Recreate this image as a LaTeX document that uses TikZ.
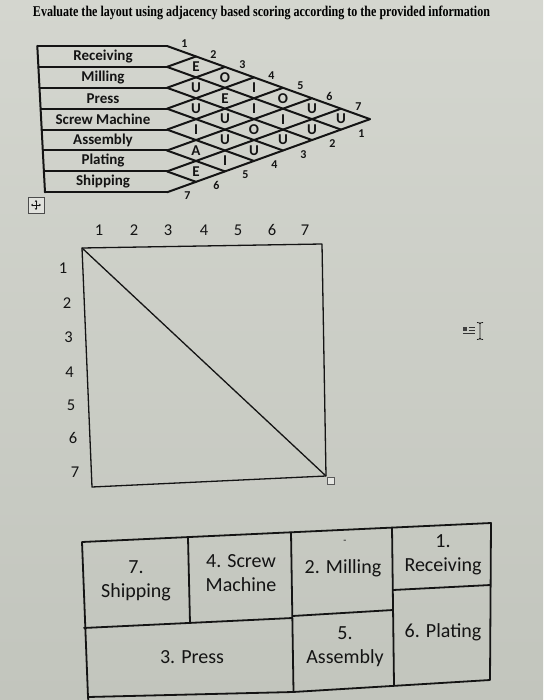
\documentclass[tikz,border=0pt]{standalone}
\usepackage{fontspec}
\setmainfont{Carlito}
\newfontfamily\timesf{Liberation Serif}
\usetikzlibrary{arrows.meta}
\definecolor{bgtop}{RGB}{212,214,207}
\definecolor{bgbot}{RGB}{194,197,189}
\definecolor{ink}{RGB}{20,20,20}
\begin{document}
\begin{tikzpicture}[x=1pt,y=-1pt,
  chartline/.style={line width=2pt, draw=ink, line join=round, line cap=round},
  rowlabel/.style={font=\fontsize{15}{15}\selectfont\bfseries, text=ink, inner sep=0pt},
  rel/.style={font=\fontsize{15}{15}\selectfont\bfseries, inner sep=0pt, text=ink},
  edgenum/.style={font=\fontsize{12}{12}\selectfont\bfseries, inner sep=0pt, text=ink},
  matnum/.style={font=\fontsize{16.5}{16.5}\selectfont, inner sep=0pt, text=ink},
  matline/.style={line width=1.3pt, draw=ink, line join=round},
  cell/.style={font=\fontsize{20}{24}\selectfont, align=center, inner sep=0pt, text=ink},
  gridline/.style={line width=1.8pt, draw=ink, line join=round},
  iconline/.style={line width=0.7pt, draw=gray!60!black},
]
\useasboundingbox (0,0) rectangle (543,700);
\shade[top color=bgtop,bottom color=bgbot] (0,0) rectangle (543,700);

% title
\node[inner sep=0pt] (title) at (261.5,12.5) {\resizebox{457pt}{10.5pt}{\timesf\bfseries Evaluate the layout using adjacency based scoring according to the provided information}};

% relationship chart: row boxes
\foreach \k in {0,...,7}
  \draw[chartline] ({37.3+1.1*\k},{46+20.9*\k}) -- (167,{46+20.9*\k});
\draw[chartline] (37.3,46) -- (45,192.3);
\foreach \name [count=\k] in {Receiving,Milling,Press,Screw Machine,Assembly,Plating,Shipping}
  \node[rowlabel] (row\k) at (103,{46+20.9*(\k-0.5)}) {\name};

\begin{scope}[shift={(167,46)}, x=29pt, y=-10.45pt]
  \foreach \k in {0,...,6}
    \draw[chartline] (0,2*\k) -- ({7-\k},{\k+7});
  \foreach \k in {1,...,7}
    \draw[chartline] (0,2*\k) -- (\k,\k);
  \foreach \i/\j/\l in {1/2/E,2/3/U,3/4/U,4/5/I,5/6/A,6/7/E,1/3/O,2/4/E,3/5/U,4/6/U,5/7/I,1/4/I,2/5/I,3/6/O,4/7/U,1/5/O,2/6/I,3/7/U,1/6/U,2/7/U,1/7/U}
    \node[rel] (rel\i\j) at ({\j-\i},{\i+\j-1}) {\l};
  \foreach \k in {1,...,7}
    \node[edgenum, yshift=8.5pt] (tn\k) at ({\k-0.4},{\k-0.4}) {\k};
  \foreach \m in {1,...,7}{
    \pgfmathtruncatemacro{\lab}{8-\m}
    \node[edgenum, yshift=-11pt] (bn\m) at ({\m-0.3},{14-(\m-0.3)}) {\lab};
  }
\end{scope}

% move handle icon
\draw[iconline, fill=bgtop!70!white] (28,197) rectangle (44,213);
\foreach \dx/\dy in {0/-5,0/5,-5/0,5/0}
  \draw[line width=0.6pt, ink, -{Stealth[length=2pt,width=2.5pt]}] (36,205) -- ++(\dx,\dy);

% matrix
\foreach \x [count=\k] in {99,134,168,204,238,272,305}
  \node[matnum] (col\k) at (\x,230) {\k};
\foreach \x/\y [count=\k] in {63/268,67/303,68.5/337,69.5/372,71/405,73/438,75/472}
  \node[matnum] (rw\k) at (\x,\y) {\k};
\coordinate (mtl) at (82,248);
\coordinate (mtr) at (322,244);
\coordinate (mbr) at (326,476);
\coordinate (mbl) at (92,487);
\draw[matline] (mtl) -- (mtr) -- (mbr) -- (mbl) -- cycle;
\draw[matline] (mtl) -- (mbr);
\draw[line width=0.6pt, gray!70!black, fill=bgtop!60!white] (327,477) rectangle (334,484);

% layout options icon and cursor
\fill[gray!50!black] (463,327) rectangle (467,331);
\draw[line width=0.8pt, gray!40!black] (468.5,327.5) -- (475,327.5) (468.5,330.5) -- (475,330.5) (463,333.8) -- (475,333.8);
\draw[line width=0.8pt, ink] (480,324) -- (480,338)
  (477,322.5) .. controls (479,322.5) and (480,323) .. (480,324)
  (483,322.5) .. controls (481,322.5) and (480,323) .. (480,324)
  (477,339.5) .. controls (479,339.5) and (480,339) .. (480,338)
  (483,339.5) .. controls (481,339.5) and (480,339) .. (480,338);

% layout grid
\draw[gridline] (82,542) -- (491,523) -- (490,680) -- (293,692) -- (88,697) -- cycle;
\draw[gridline] (88,697) -- (88.3,700);
\draw[gridline] (188,538) -- (190,623);
\draw[gridline] (83.5,628) -- (292.5,618);
\draw[gridline] (291,532) -- (293.5,692);
\draw[gridline] (292.5,616) -- (393,610);
\draw[gridline] (392,527) -- (394,685);
\draw[gridline] (393,590) -- (490.5,585);

\node[cell] (ship) at (136,581) {7.\\Shipping};
\node[cell] (screw) at (241,573) {4. Screw\\Machine};
\node[cell] (mill) at (343,568) {2. Milling};
\node[inner sep=0pt, font=\fontsize{10}{10}\selectfont, text=ink] (mark) at (345,542) {-};
\node[cell] (recv) at (443,555) {1.\\Receiving};
\node[cell] (press) at (192,657) {3. Press};
\node[cell] (asm) at (345,647) {5.\\Assembly};
\node[cell] (plat) at (443,632) {6. Plating};
\end{tikzpicture}
\end{document}
